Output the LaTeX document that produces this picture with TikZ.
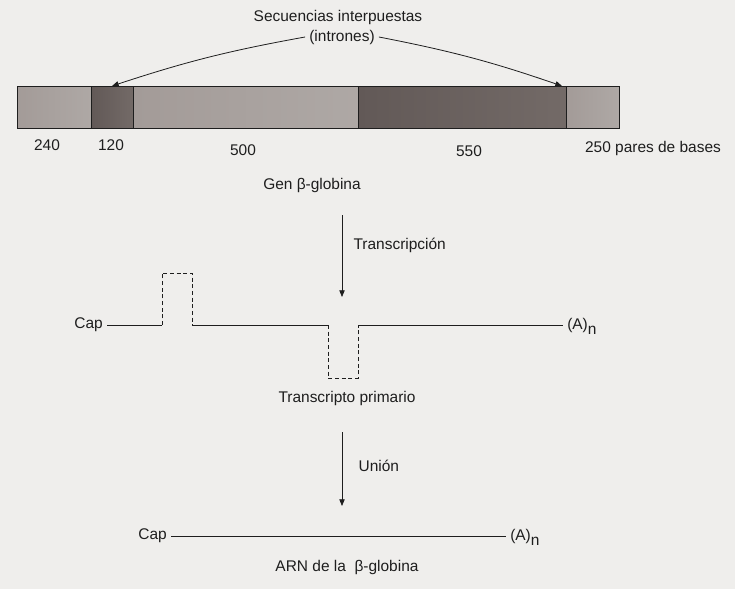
\documentclass[tikz,border=0pt]{standalone}
\usepackage{fontspec}
\setmainfont{Liberation Sans}
\usetikzlibrary{arrows.meta}
\definecolor{bgPaper}{HTML}{EFEEEC}
\definecolor{exonGrey}{HTML}{A39B98}
\definecolor{exonLight}{HTML}{AEA8A5}
\definecolor{intronDark}{HTML}{625957}
\definecolor{intronMid}{HTML}{736A67}
\definecolor{lineInk}{HTML}{1E1E1E}

\begin{document}
\begin{tikzpicture}[x=0.75pt, y=-0.75pt, font=\fontsize{11.6}{13.5}\selectfont,
  exon/.style={draw=lineInk, line width=0.6pt, left color=exonGrey, right color=exonLight},
  intron/.style={draw=lineInk, line width=0.6pt, left color=intronDark, right color=intronMid},
  lbl/.style={text=lineInk, inner sep=1pt},
  pointer/.style={draw=lineInk, line width=0.6pt, -{Triangle[length=5pt,width=4pt]}},
  strand/.style={draw=lineInk, line width=0.7pt},
  intronloop/.style={strand, dash pattern=on 3pt off 2pt},
]
\fill[bgPaper] (0,0) rectangle (735,589);
\useasboundingbox (0,0) rectangle (735,589);
% ---- gene bar ----
\path[exon] (17,86) rectangle (91,128);
\path[intron] (91,86) rectangle (133,128);
\path[exon] (133,86) rectangle (358,128);
\path[intron] (358,86) rectangle (566,128);
\path[exon] (566,86) rectangle (619,128);
\coordinate (intronA) at (112,86);
\coordinate (intronB) at (562,86);
% ---- intron labels ----
\node[lbl] (secTitle) at (338,18) {Secuencias interpuestas};
\node[lbl, inner sep=3pt] (intrones) at (342,37) {(intrones)};
\draw[pointer] (intrones.west) to[bend right=4] (intronA);
\draw[pointer] (intrones.east) to[bend left=4] (intronB);
% ---- lengths ----
\node[lbl] (len1) at (47,145) {240};
\node[lbl] (len2) at (111,145) {120};
\node[lbl] (len3) at (243,150) {500};
\node[lbl] (len4) at (469,151) {550};
\node[lbl] (len5) at (653,148) {250 pares de bases};
\node[lbl] (gene) at (312,185) {Gen β-globina};
% ---- transcription ----
\coordinate (txTop) at (342,215);
\coordinate (txEnd) at (342,297);
\draw[pointer] (txTop) -- (txEnd);
\node[lbl, anchor=west] (txLabel) at (352,245) {Transcripción};
% ---- primary transcript ----
\node[lbl, anchor=east, inner sep=3pt] (capA) at (107,325) {Cap};
\node[lbl, anchor=west, inner sep=3pt] (polyA) at (563,326) {(A)\raisebox{-0.6ex}{n}};
\draw[strand] (capA.east) -- (162,325);
\draw[intronloop] (162,325) -- (162,273) -- (192,273) -- (192,325);
\draw[strand] (192,325) -- (328,325);
\draw[intronloop] (328,325) -- (328,378) -- (358,378) -- (358,325);
\draw[strand] (358,325) -- (polyA.west |- 0,325);
\node[lbl] (primario) at (347,398) {Transcripto primario};
% ---- splicing ----
\coordinate (spTop) at (342,432);
\coordinate (spEnd) at (342,506);
\draw[pointer] (spTop) -- (spEnd);
\node[lbl, anchor=west] (spLabel) at (357,466) {Unión};
% ---- mature mRNA ----
\node[lbl, anchor=east, inner sep=3pt] (capB) at (171,536) {Cap};
\node[lbl, anchor=west, inner sep=3pt] (polyB) at (506,537) {(A)\raisebox{-0.6ex}{n}};
\draw[strand] (capB.east) -- (polyB.west |- 0,536);
\node[lbl] (arn) at (347,567) {ARN de la\ \ β-globina};
\end{tikzpicture}
\end{document}
